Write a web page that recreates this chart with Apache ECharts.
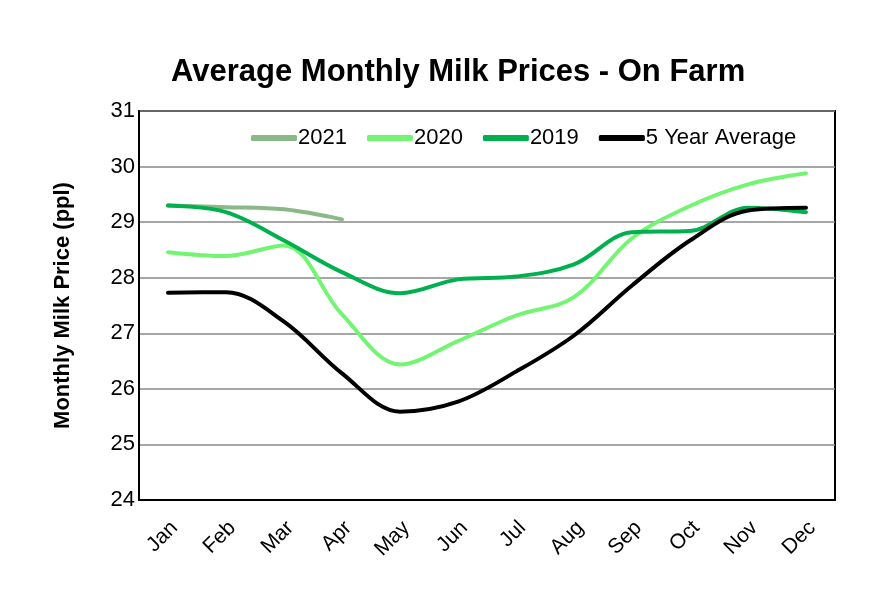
<!DOCTYPE html>
<html>
<head>
<meta charset="utf-8">
<script src="https://cdn.jsdelivr.net/npm/echarts@6/dist/echarts.min.js"></script>
<style>html,body{margin:0;padding:0;background:#fff}#c{width:872px;height:599px}</style>
</head>
<body>
<div id="c"></div>
<script>
const months = ['Jan','Feb','Mar','Apr','May','Jun','Jul','Aug','Sep','Oct','Nov','Dec'];
const yTicks = [24,25,26,27,28,29,30,31];
const s2021 = [29.30, 29.27, 29.23, 29.05];
const s2020 = [28.46, 28.39, 28.58, 27.34, 26.44, 26.86, 27.32, 27.65, 28.71, 29.29, 29.68, 29.88];
const s2019 = [29.30, 29.18, 28.67, 28.10, 27.72, 27.97, 28.02, 28.24, 28.82, 28.84, 29.26, 29.18];
const s5yr  = [27.73, 27.74, 27.21, 26.28, 25.59, 25.77, 26.31, 26.96, 27.86, 28.67, 29.21, 29.26];

const chart = echarts.init(document.getElementById('c'));
const font = 'Liberation Sans, Arial, sans-serif';
function line(name, data, color, z) {
  return { name, type: 'line', data, smooth: 0.35, symbol: 'none', z,
    lineStyle: { color, width: 4, cap: 'round' }, itemStyle: { color } };
}
chart.setOption({
  animation: false,
  title: { text: 'Average Monthly Milk Prices - On Farm', left: 166, top: 52,
    textStyle: { fontFamily: font, fontSize: 31, fontWeight: 'bold', color: '#000' } },
  legend: { top: 122, left: 246, itemWidth: 46, itemHeight: 6, itemGap: 20,
    icon: 'roundRect',
    textStyle: { fontFamily: font, fontSize: 22, color: '#000', padding: [0,0,0,-4] },
    data: ['2021','2020','2019','5 Year Average'] },
  grid: { left: 139, right: 37, top: 111, bottom: 99, show: true, borderColor: '#000', borderWidth: 2 },
  xAxis: { type: 'category', data: months, boundaryGap: true,
    axisLine: { lineStyle: { color: '#000', width: 2 } }, axisTick: { show: false },
    axisLabel: { rotate: 45, fontFamily: font, fontSize: 21, color: '#000', margin: 31,
      padding: [0, -9, 0, 0], interval: 0 } },
  yAxis: { type: 'value', min: 24, max: 31, interval: 1,
    name: 'Monthly Milk Price (ppl)', nameLocation: 'middle', nameGap: 65,
    nameTextStyle: { fontFamily: font, fontSize: 22, fontWeight: 'bold', color: '#000' },
    axisLine: { show: true, lineStyle: { color: '#000', width: 2 } }, axisTick: { show: false },
    axisLabel: { fontFamily: font, fontSize: 22, color: '#000', margin: 4,
      formatter: v => yTicks.includes(v) ? String(v) : '' },
    splitLine: { lineStyle: { color: '#888', width: 1.5 } } },
  series: [
    line('2021', s2021, '#8AB886', 2),
    line('2020', s2020, '#73F573', 3),
    line('2019', s2019, '#00B04F', 4),
    line('5 Year Average', s5yr, '#000000', 5)
  ]
});
</script>
</body>
</html>
